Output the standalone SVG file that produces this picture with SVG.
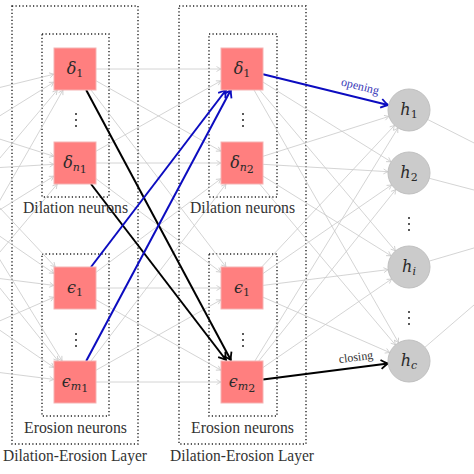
<svg xmlns="http://www.w3.org/2000/svg" width="474" height="474" viewBox="0 0 474 474">
<style>
.g{stroke:#c9c9c9;stroke-width:0.8;fill:none;marker-end:url(#ag)}
.gn{stroke:#c9c9c9;stroke-width:0.8;fill:none}
.box{fill:#ff7f7f;stroke:#f5b3b3;stroke-width:1}
.circ{fill:#cbcbcb;stroke:#c0c0c0;stroke-width:1}
.dot{fill:none;stroke:#222;stroke-width:1.4;stroke-dasharray:1.2 2.3}
text{font-family:'Liberation Serif',serif}
.lbl{font-family:'DejaVu Serif',serif;font-style:italic;font-size:16px;fill:#2a2a2a;text-anchor:middle}
.sub{font-size:11px;font-style:normal}
.subi{font-size:11px;font-style:italic}
.cap{font-size:16px;fill:#333;text-anchor:middle}
.vd{fill:#222}
.blue{stroke:#0c0cc0;stroke-width:2;fill:none;marker-end:url(#ab)}
.blk{stroke:#000;stroke-width:2;fill:none;marker-end:url(#ak)}
</style>
<defs>
<marker id="ag" markerUnits="userSpaceOnUse" viewBox="-6 -4 7 8" refX="0" refY="0" markerWidth="7" markerHeight="8" orient="auto">
<path d="M-4.5,-2.5 Q-1.5,-0.6 0,0 Q-1.5,0.6 -4.5,2.5" fill="none" stroke="#c9c9c9" stroke-width="0.8"/>
</marker>
<marker id="ab" markerUnits="userSpaceOnUse" viewBox="-9 -6 10 12" refX="0" refY="0" markerWidth="10" markerHeight="12" orient="auto">
<path d="M-7,-4.5 Q-2.5,-1.2 0,0 Q-2.5,1.2 -7,4.5" fill="none" stroke="#0c0cc0" stroke-width="1.8"/>
</marker>
<marker id="ak" markerUnits="userSpaceOnUse" viewBox="-9 -6 10 12" refX="0" refY="0" markerWidth="10" markerHeight="12" orient="auto">
<path d="M-7,-4.5 Q-2.5,-1.2 0,0 Q-2.5,1.2 -7,4.5" fill="none" stroke="#000" stroke-width="1.8"/>
</marker>
</defs>
<rect width="474" height="474" fill="#fff"/>

<g id="frames">
<rect class="dot" x="12" y="6" width="126" height="438"/>
<rect class="dot" x="42" y="34" width="67" height="163"/>
<rect class="dot" x="42" y="254" width="67" height="162"/>
<rect class="dot" x="179" y="6" width="127" height="438"/>
<rect class="dot" x="209" y="34" width="68" height="163"/>
<rect class="dot" x="209" y="254" width="68" height="162"/>
</g>

<g id="connectors">
<line class="g" x1="-92" y1="110" x2="54" y2="74.2"/>
<line class="g" x1="-92" y1="173" x2="54" y2="82.1"/>
<line class="g" x1="-92" y1="267" x2="57.3" y2="90"/>
<line class="g" x1="-92" y1="361" x2="63" y2="90"/>
<line class="g" x1="-92" y1="110" x2="54" y2="156.3"/>
<line class="g" x1="-92" y1="173" x2="54" y2="164.3"/>
<line class="g" x1="-92" y1="267" x2="54" y2="176.1"/>
<line class="g" x1="-92" y1="361" x2="57.3" y2="184"/>
<line class="g" x1="-92" y1="110" x2="55.3" y2="267"/>
<line class="g" x1="-92" y1="173" x2="54" y2="273.5"/>
<line class="g" x1="-92" y1="267" x2="54" y2="285.4"/>
<line class="g" x1="-92" y1="361" x2="54" y2="297.2"/>
<line class="g" x1="-92" y1="110" x2="62.1" y2="361"/>
<line class="g" x1="-92" y1="173" x2="58.2" y2="361"/>
<line class="g" x1="-92" y1="267" x2="54" y2="367.5"/>
<line class="g" x1="-92" y1="361" x2="54" y2="379.4"/>
<line class="g" x1="96" y1="69" x2="221" y2="69"/>
<line class="g" x1="96" y1="80.8" x2="221" y2="151.2"/>
<line class="g" x1="91" y1="90" x2="226" y2="267"/>
<line class="g" x1="96" y1="151.2" x2="221" y2="80.8"/>
<line class="g" x1="96" y1="163" x2="221" y2="163"/>
<line class="g" x1="96" y1="178.7" x2="221" y2="272.3"/>
<line class="g" x1="96" y1="272.3" x2="221" y2="178.7"/>
<line class="g" x1="96" y1="288" x2="221" y2="288"/>
<line class="g" x1="96" y1="299.8" x2="221" y2="370.2"/>
<line class="g" x1="91" y1="361" x2="226" y2="184"/>
<line class="g" x1="96" y1="370.2" x2="221" y2="299.8"/>
<line class="g" x1="96" y1="382" x2="221" y2="382"/>
<line class="g" x1="263" y1="82.1" x2="391.2" y2="161.9"/>
<line class="g" x1="259.7" y1="90" x2="395.5" y2="251"/>
<line class="g" x1="254" y1="90" x2="398.6" y2="342.8"/>
<line class="g" x1="263" y1="156.3" x2="389" y2="116.4"/>
<line class="g" x1="263" y1="164.3" x2="388" y2="171.7"/>
<line class="g" x1="263" y1="176.1" x2="391.2" y2="255.9"/>
<line class="g" x1="259.7" y1="184" x2="395.5" y2="345"/>
<line class="g" x1="261.7" y1="267" x2="394.6" y2="125.3"/>
<line class="g" x1="263" y1="273.5" x2="391.7" y2="184.9"/>
<line class="g" x1="263" y1="285.4" x2="388.2" y2="269.6"/>
<line class="g" x1="263" y1="297.2" x2="389.8" y2="352.6"/>
<line class="g" x1="254.9" y1="361" x2="398" y2="127.9"/>
<line class="g" x1="258.8" y1="361" x2="395.9" y2="189.4"/>
<line class="g" x1="263" y1="367.5" x2="391.7" y2="278.9"/>
<line class="gn" x1="427.7" y1="119.5" x2="480" y2="146"/>
<line class="gn" x1="429.3" y1="178.3" x2="480" y2="191.6"/>
<line class="gn" x1="429.2" y1="261.1" x2="480" y2="246.2"/>
<line class="gn" x1="424.9" y1="347.3" x2="480" y2="299.8"/>
<line class="blk" x1="86.2" y1="90" x2="230.8" y2="360"/>
<line class="blk" x1="91" y1="184" x2="226" y2="360"/>
<line class="blue" x1="91" y1="267" x2="226" y2="90"/>
<line class="blue" x1="86.2" y1="361" x2="230.8" y2="90"/>
<line class="blue" x1="263" y1="74.2" x2="388" y2="105"/>
<line class="blk" x1="263" y1="379.4" x2="388" y2="363.6"/>
<text x="360" y="90" transform="rotate(14 360 87)" font-size="12" fill="#3a3ab8" text-anchor="middle">opening</text>
<text x="356" y="361" transform="rotate(-7 356 358)" font-size="12" fill="#333" text-anchor="middle">closing</text>
</g>

<g id="nodes">
<g id="d1a"><rect class="box" x="54" y="48" width="42" height="42"/><text class="lbl" x="75" y="74">δ<tspan class="sub" dy="3">1</tspan></text></g>
<g id="dn1"><rect class="box" x="54" y="142" width="42" height="42"/><text class="lbl" x="75" y="168">δ<tspan class="subi" dy="3">n</tspan><tspan class="sub" font-size="8" dy="2">1</tspan></text></g>
<g id="e1a"><rect class="box" x="54" y="267" width="42" height="42"/><text class="lbl" x="75" y="293">ϵ<tspan class="sub" dy="3">1</tspan></text></g>
<g id="em1"><rect class="box" x="54" y="361" width="42" height="42"/><text class="lbl" x="75" y="387">ϵ<tspan class="subi" dy="3">m</tspan><tspan class="sub" font-size="8" dy="2">1</tspan></text></g>

<g id="d1b"><rect class="box" x="221" y="48" width="42" height="42"/><text class="lbl" x="242" y="74">δ<tspan class="sub" dy="3">1</tspan></text></g>
<g id="dn2"><rect class="box" x="221" y="142" width="42" height="42"/><text class="lbl" x="242" y="168">δ<tspan class="subi" dy="3">n</tspan><tspan class="sub" font-size="8" dy="2">2</tspan></text></g>
<g id="e1b"><rect class="box" x="221" y="267" width="42" height="42"/><text class="lbl" x="242" y="293">ϵ<tspan class="sub" dy="3">1</tspan></text></g>
<g id="em2"><rect class="box" x="221" y="361" width="42" height="42"/><text class="lbl" x="242" y="387">ϵ<tspan class="subi" dy="3">m</tspan><tspan class="sub" font-size="8" dy="2">2</tspan></text></g>

<g id="h1"><circle class="circ" cx="409" cy="110" r="21"/><text class="lbl" x="409" y="115">h<tspan class="sub" dy="3">1</tspan></text></g>
<g id="h2"><circle class="circ" cx="409" cy="173" r="21"/><text class="lbl" x="409" y="178">h<tspan class="sub" dy="3">2</tspan></text></g>
<g id="hi"><circle class="circ" cx="409" cy="267" r="21"/><text class="lbl" x="409" y="272">h<tspan class="subi" dy="3">i</tspan></text></g>
<g id="hc"><circle class="circ" cx="409" cy="361" r="21"/><text class="lbl" x="409" y="366">h<tspan class="subi" dy="3">c</tspan></text></g>
</g>

<g id="vdots">
<circle class="vd" cx="76" cy="114" r="1"/><circle class="vd" cx="76" cy="120" r="1"/><circle class="vd" cx="76" cy="126" r="1"/>
<circle class="vd" cx="76" cy="334" r="1"/><circle class="vd" cx="76" cy="340" r="1"/><circle class="vd" cx="76" cy="346" r="1"/>
<circle class="vd" cx="243" cy="114" r="1"/><circle class="vd" cx="243" cy="120" r="1"/><circle class="vd" cx="243" cy="126" r="1"/>
<circle class="vd" cx="243" cy="334" r="1"/><circle class="vd" cx="243" cy="340" r="1"/><circle class="vd" cx="243" cy="346" r="1"/>
<circle class="vd" cx="409" cy="218" r="1"/><circle class="vd" cx="409" cy="224" r="1"/><circle class="vd" cx="409" cy="230" r="1"/>
<circle class="vd" cx="409" cy="312" r="1"/><circle class="vd" cx="409" cy="318" r="1"/><circle class="vd" cx="409" cy="324" r="1"/>
</g>

<g id="captions">
<text class="cap" x="75.5" y="213" textLength="105" lengthAdjust="spacingAndGlyphs">Dilation neurons</text>
<text class="cap" x="75.5" y="433" textLength="103" lengthAdjust="spacingAndGlyphs">Erosion neurons</text>
<text class="cap" x="75" y="461" textLength="144" lengthAdjust="spacingAndGlyphs">Dilation-Erosion Layer</text>
<text class="cap" x="242.5" y="213" textLength="105" lengthAdjust="spacingAndGlyphs">Dilation neurons</text>
<text class="cap" x="242.5" y="433" textLength="103" lengthAdjust="spacingAndGlyphs">Erosion neurons</text>
<text class="cap" x="242" y="461" textLength="144" lengthAdjust="spacingAndGlyphs">Dilation-Erosion Layer</text>
</g>
</svg>
